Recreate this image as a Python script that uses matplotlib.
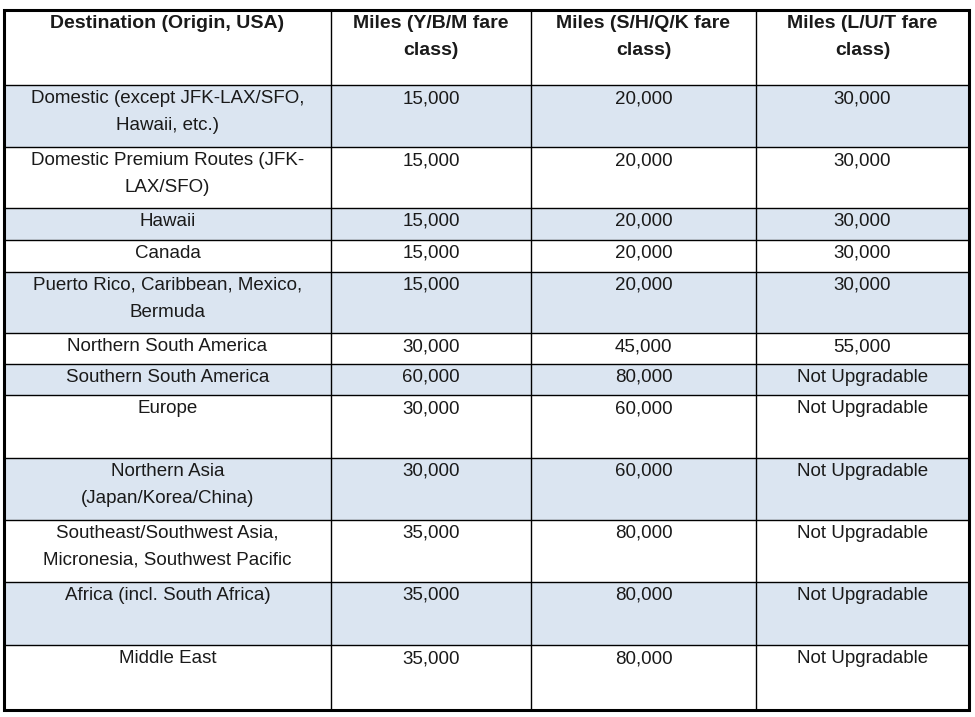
import matplotlib
matplotlib.use("Agg")
import matplotlib.pyplot as plt
from matplotlib.patches import Rectangle

headers = ["Destination (Origin, USA)", "Miles (Y/B/M fare\nclass)",
           "Miles (S/H/Q/K fare\nclass)", "Miles (L/U/T fare\nclass)"]
destinations = ["Domestic (except JFK-LAX/SFO,\nHawaii, etc.)",
                "Domestic Premium Routes (JFK-\nLAX/SFO)",
                "Hawaii", "Canada",
                "Puerto Rico, Caribbean, Mexico,\nBermuda",
                "Northern South America", "Southern South America", "Europe",
                "Northern Asia\n(Japan/Korea/China)",
                "Southeast/Southwest Asia,\nMicronesia, Southwest Pacific",
                "Africa (incl. South Africa)", "Middle East"]
miles_ybm = ["15,000"] * 5 + ["30,000", "60,000", "30,000", "30,000", "35,000", "35,000", "35,000"]
miles_shqk = ["20,000"] * 5 + ["45,000", "80,000", "60,000", "60,000", "80,000", "80,000", "80,000"]
miles_lut = ["30,000"] * 5 + ["55,000"] + ["Not Upgradable"] * 6

W, H = 975, 717
fig = plt.figure(figsize=(W / 100, H / 100), dpi=100)
ax = fig.add_axes([0, 0, 1, 1])
ax.set_xlim(0, W); ax.set_ylim(H, 0); ax.axis("off")

xs = [4, 331, 531, 756, 969]
ys = [10, 85, 147, 208, 240, 272, 333, 364, 395, 458, 520, 582, 645, 710]
shade = "#DBE5F1"

for i in range(len(destinations)):
    if i % 2 == 0:
        ax.add_patch(Rectangle((xs[0], ys[i + 1]), xs[-1] - xs[0], ys[i + 2] - ys[i + 1],
                               facecolor=shade, edgecolor="none", zorder=0))
for x in xs[1:-1]:
    ax.plot([x, x], [ys[0], ys[-1]], color="black", lw=1.0, zorder=2)
for y in ys[1:-1]:
    ax.plot([xs[0], xs[-1]], [y, y], color="black", lw=1.0, zorder=2)
ax.add_patch(Rectangle((xs[0], ys[0]), xs[-1] - xs[0], ys[-1] - ys[0],
                       facecolor="none", edgecolor="black", lw=2.2, zorder=3))

for j, h in enumerate(headers):
    ax.text((xs[j] + xs[j + 1]) / 2, ys[0] + 5, h, ha="center", va="top",
            fontsize=14, fontweight="bold", family="Liberation Sans",
            color="#1a1a1a", linespacing=1.75)

cols = [destinations, miles_ybm, miles_shqk, miles_lut]
for i in range(len(destinations)):
    for j, col in enumerate(cols):
        ax.text((xs[j] + xs[j + 1]) / 2, ys[i + 1] + 5, col[i], ha="center", va="top",
                fontsize=13.5, family="Liberation Sans", color="#1a1a1a", linespacing=1.75)

fig.savefig("out.png", dpi=100)
